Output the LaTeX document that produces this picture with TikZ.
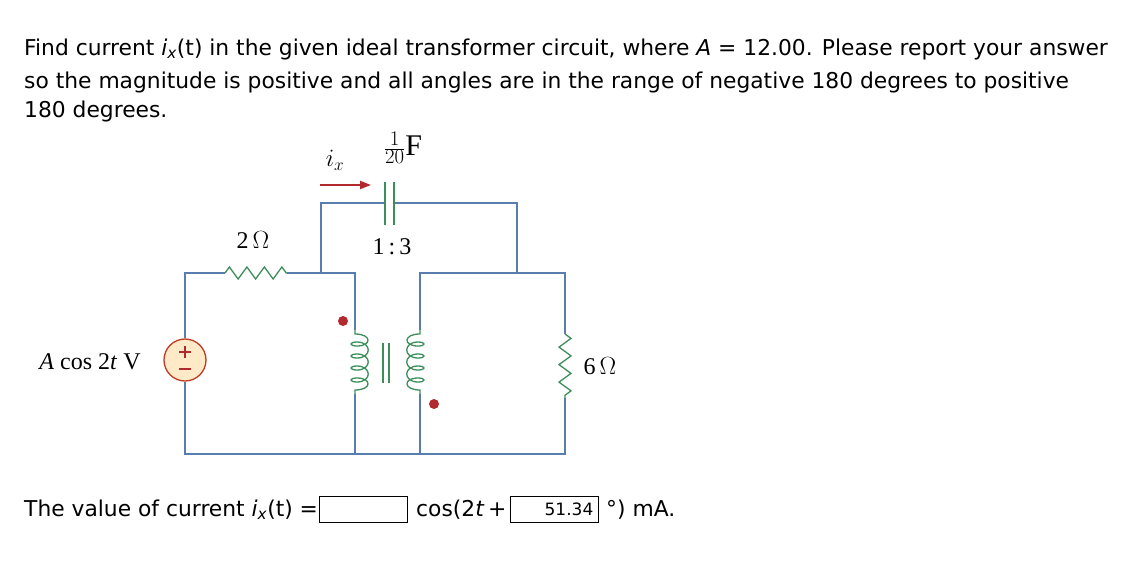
\documentclass[tikz,border=0pt]{standalone}
\usepackage{fontspec}
\setmainfont{DejaVu Sans}
\newfontfamily\ckt{Liberation Serif}
\usetikzlibrary{decorations.pathmorphing,arrows.meta}
\definecolor{wire}{HTML}{5A7DB0}
\definecolor{comp}{HTML}{3C8F5A}
\definecolor{dotc}{HTML}{B22A2E}
\begin{document}
\begin{tikzpicture}[x=1pt,y=-1pt,
  w/.style={draw=wire,line width=1.6pt},
  res/.style={draw=comp,line width=1.3pt,decorate,decoration={zigzag,segment length=17.5pt,amplitude=6pt}},
  lbl/.style={font=\ckt\fontsize{24}{26}\selectfont,inner sep=0pt},
  txt/.style={font=\fontsize{21.8}{24}\selectfont,anchor=base west,inner sep=0pt},
  ansbox/.style={draw=black,line width=0.6pt,minimum width=88pt,minimum height=26pt,inner sep=0pt}]
\useasboundingbox (0,0) rectangle (1122,568);
\fill[white] (0,0) rectangle (1122,568);
\node[txt] (t1) at (24,55) {Find current \textit{i\textsubscript{x}}(t) in the given ideal transformer circuit, where \textit{A} = 12.00. Please report your answer};
\node[txt] (t2) at (24,88) {so the magnitude is positive and all angles are in the range of negative 180 degrees to positive};
\node[txt] (t3) at (24,117) {180 degrees.};
% coordinates
\coordinate (tl) at (185,273); \coordinate (bl) at (185,454);
\coordinate (r1a) at (225,273); \coordinate (r1b) at (287,273);
\coordinate (j1) at (321,273); \coordinate (pt) at (355,273); \coordinate (pb) at (355,454);
\coordinate (c1) at (321,203); \coordinate (c2) at (517,203);
\coordinate (ca) at (385,203); \coordinate (cb) at (395,203);
\coordinate (st) at (420,273); \coordinate (sb) at (420,454);
\coordinate (j2) at (517,273); \coordinate (rt) at (565,273); \coordinate (rb) at (565,454);
\coordinate (r2a) at (565,334); \coordinate (r2b) at (565,398);
\coordinate (p1) at (355,330); \coordinate (p2) at (355,394);
\coordinate (s1) at (420,330); \coordinate (s2) at (420,394);
% wires
\draw[w] (185,338) -- (tl) -- (r1a);
\draw[w] (r1b) -- (pt) -- (p1);
\draw[w] (p2) -- (pb);
\draw[w] (185,382) -- (bl) -- (pb) -- (sb) -- (rb) -- (r2b);
\draw[w] (r2a) -- (rt) -- (st) -- (s1);
\draw[w] (s2) -- (sb);
\draw[w] (j1) -- (c1) -- (ca);
\draw[w] (cb) -- (c2) -- (j2);
% components
\draw[res] (r1a) -- (r1b);
\draw[res] (r2a) -- (r2b);
\draw[comp,line width=1.3pt] (385,182) -- (385,225) (394,182) -- (394,225);
\draw[comp,line width=1.2pt] (383,343) -- (383,383) (389,343) -- (389,383);
\draw[draw=comp,line width=1.3pt] (p1) -- (355,334) .. controls (372,334) and (372,346) .. (357,346)
  .. controls (349,346) and (349,342) .. (357,342) .. controls (372,342) and (372,358) .. (357,358)
  .. controls (349,358) and (349,354) .. (357,354) .. controls (372,354) and (372,370) .. (357,370)
  .. controls (349,370) and (349,366) .. (357,366) .. controls (372,366) and (372,382) .. (357,382)
  .. controls (349,382) and (349,378) .. (357,378) .. controls (372,378) and (372,390) .. (355,390) -- (p2);
\draw[draw=comp,line width=1.3pt] (s1) -- (420,334) .. controls (403,334) and (403,346) .. (418,346)
  .. controls (426,346) and (426,342) .. (418,342) .. controls (403,342) and (403,358) .. (418,358)
  .. controls (426,358) and (426,354) .. (418,354) .. controls (403,354) and (403,370) .. (418,370)
  .. controls (426,370) and (426,366) .. (418,366) .. controls (403,366) and (403,382) .. (418,382)
  .. controls (426,382) and (426,378) .. (418,378) .. controls (403,378) and (403,390) .. (420,390) -- (s2);
\fill[dotc] (343,321) circle (5);
\fill[dotc] (434,404) circle (5);
% source
\node[circle,draw=dotc!80!orange,fill=yellow!25!orange!20,line width=1.3pt,minimum size=42pt,inner sep=0pt] (src) at (185,360) {};
\draw[dotc,line width=1.4pt] (179,352) -- (191,352) (185,346) -- (185,358) (179,369) -- (191,369);
% arrow
\coordinate (a1) at (320,185); \coordinate (a2) at (371,185);
\draw[dotc,line width=2pt,-{Triangle[length=11pt,width=8pt]}] (a1) -- (a2);
% labels
\node[lbl] (ix) at (335,160) {$i_x$};
\node[lbl,font=\ckt\fontsize{30}{32}\selectfont] (cf) at (403,148) {$\frac{1}{20}$F};
\node[lbl] (ratio) at (392,247) {1\,:\,3};
\node[lbl] (r1l) at (253,240) {2\,$\Omega$};
\node[lbl] (r2l) at (600,366) {6\,$\Omega$};
\node[lbl] (vs) at (90,362) {\textit{A} cos 2\textit{t} V};
% answer line
\node[txt] (q) at (24,516) {The value of current \textit{i\textsubscript{x}}(t) =};
\node[ansbox] (b1) at (363,509) {};
\node[txt] (cos) at (416,516) {cos(2\textit{t}\,+};
\node[ansbox,font=\fontsize{17}{20}\selectfont] (b2) at (554,509) {\hspace*{30pt}51.34};
\node[txt] (end) at (606,516) {°) mA.};
\end{tikzpicture}
\end{document}
